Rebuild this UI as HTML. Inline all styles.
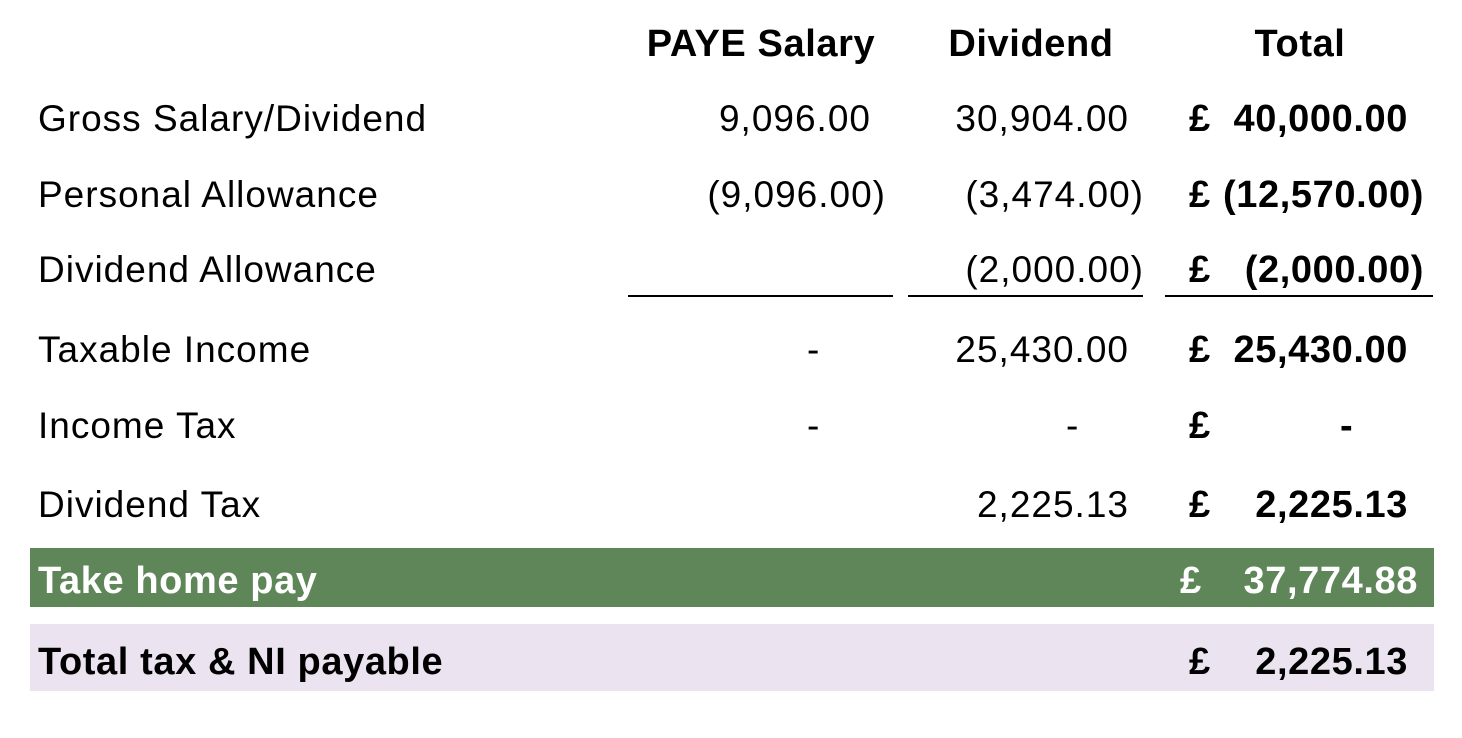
<!DOCTYPE html>
<html><head><meta charset="utf-8"><style>
body{margin:0;width:1462px;height:738px;background:#fff;position:relative;overflow:hidden;font-family:"Liberation Sans",sans-serif;color:#000}
.t{position:absolute;font-size:37px;letter-spacing:1px;line-height:40px;white-space:nowrap}
.b{font-weight:bold;font-size:38px;letter-spacing:0.6px}
.r{text-align:right}
.c{text-align:center}
.line{position:absolute;height:2px;background:#000;top:295px}
</style></head><body>
<div style="position:absolute;left:30px;top:548px;width:1404px;height:59px;background:#5f8658"></div>
<div style="position:absolute;left:30px;top:624px;width:1404px;height:67px;background:#ebe4f0"></div>
<div class="line" style="left:628px;width:265px"></div>
<div class="line" style="left:908px;width:235px"></div>
<div class="line" style="left:1165px;width:268px"></div>

<div class="t b c" style="left:611px;width:300px;top:24px">PAYE Salary</div>
<div class="t b c" style="left:881px;width:300px;top:24px">Dividend</div>
<div class="t b c" style="left:1150px;width:300px;top:24px">Total</div>

<div class="t" style="left:38px;top:99px">Gross Salary/Dividend</div>
<div class="t" style="left:38px;top:175px">Personal Allowance</div>
<div class="t" style="left:38px;top:250px">Dividend Allowance</div>
<div class="t" style="left:38px;top:330px">Taxable Income</div>
<div class="t" style="left:38px;top:406px">Income Tax</div>
<div class="t" style="left:38px;top:485px">Dividend Tax</div>
<div class="t b" style="left:38px;top:561px;color:#fff">Take home pay</div>
<div class="t b" style="left:38px;top:642px">Total tax &amp; NI payable</div>

<div class="t r" style="right:591px;top:99px">9,096.00</div>
<div class="t r" style="right:576px;top:175px">(9,096.00)</div>
<div class="t" style="left:807px;top:330px">-</div>
<div class="t" style="left:807px;top:406px">-</div>

<div class="t r" style="right:333px;top:99px">30,904.00</div>
<div class="t r" style="right:318px;top:175px">(3,474.00)</div>
<div class="t r" style="right:318px;top:250px">(2,000.00)</div>
<div class="t r" style="right:333px;top:330px">25,430.00</div>
<div class="t" style="left:1066px;top:406px">-</div>
<div class="t r" style="right:333px;top:485px">2,225.13</div>

<div class="t b" style="left:1189px;top:99px">£</div>
<div class="t b" style="left:1189px;top:175px">£</div>
<div class="t b" style="left:1189px;top:250px">£</div>
<div class="t b" style="left:1189px;top:330px">£</div>
<div class="t b" style="left:1189px;top:406px">£</div>
<div class="t b" style="left:1189px;top:485px">£</div>
<div class="t b" style="left:1180px;top:561px;color:#fff">£</div>
<div class="t b" style="left:1189px;top:642px">£</div>

<div class="t b r" style="right:54px;top:99px">40,000.00</div>
<div class="t b r" style="right:38px;top:175px">(12,570.00)</div>
<div class="t b r" style="right:38px;top:250px">(2,000.00)</div>
<div class="t b r" style="right:54px;top:330px">25,430.00</div>
<div class="t b" style="left:1340px;top:406px">-</div>
<div class="t b r" style="right:54px;top:485px">2,225.13</div>
<div class="t b r" style="right:44px;top:561px;color:#fff">37,774.88</div>
<div class="t b r" style="right:54px;top:642px">2,225.13</div>
</body></html>
